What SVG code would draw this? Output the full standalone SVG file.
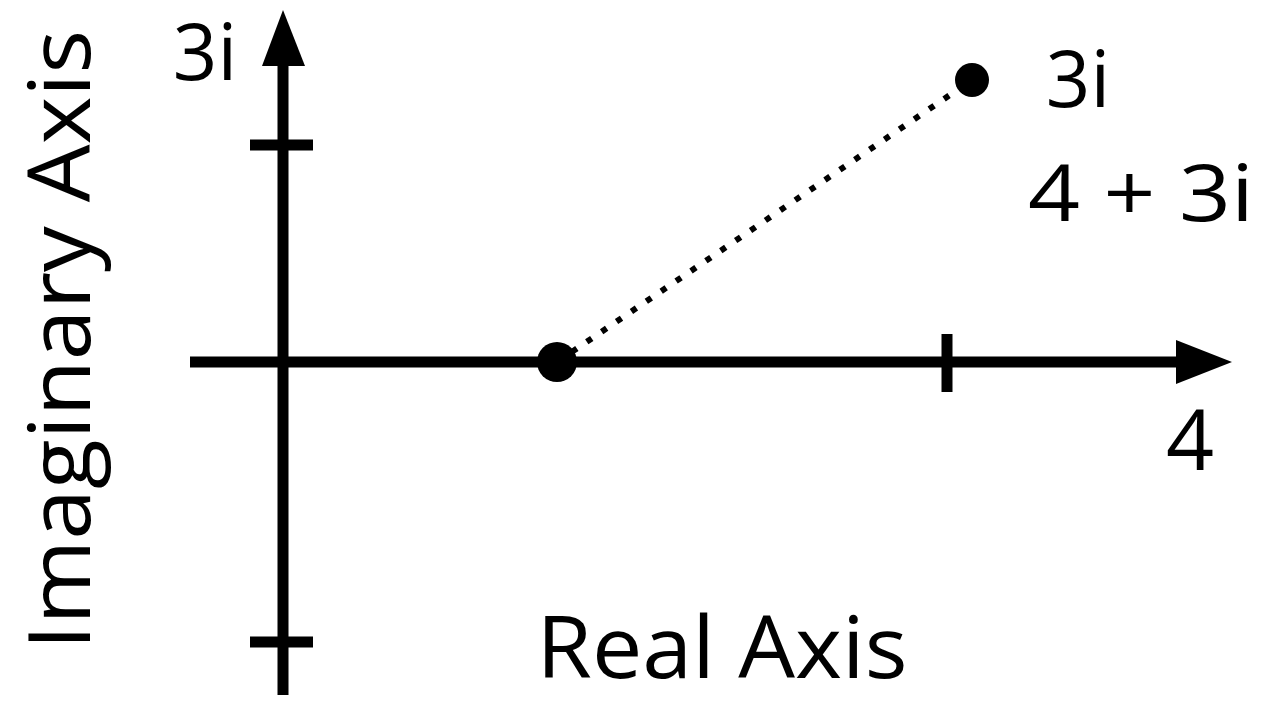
<svg xmlns="http://www.w3.org/2000/svg" width="1280" height="720" viewBox="0 0 1280 720">
<style>
.ax{stroke:#000;stroke-width:11;fill:none}
.t{font-family:"Open Sans","DejaVu Sans",sans-serif;fill:#000}
</style>
<rect width="1280" height="720" fill="#fff"/>
<g id="axes">
<line class="ax" x1="283" y1="695" x2="283" y2="55"/>
<polygon points="283,10 262,66 305,66"/>
<line class="ax" x1="250" y1="145" x2="313" y2="145"/>
<line class="ax" x1="250" y1="642" x2="313" y2="642"/>
<line class="ax" x1="190" y1="362" x2="1185" y2="362"/>
<polygon points="1232,362 1176,340 1176,384"/>
<line class="ax" x1="947" y1="334" x2="947" y2="392"/>
</g>
<g id="connectors">
<line x1="557" y1="362" x2="972" y2="80" stroke="#000" stroke-width="6" stroke-dasharray="6,12"/>
</g>
<g id="points">
<circle cx="557" cy="362" r="20"/>
<circle cx="972" cy="80" r="17"/>
</g>
<g id="labels">
<text class="t" x="205" y="80" font-size="78" text-anchor="middle">3i</text>
<text class="t" x="1078" y="107" font-size="78" text-anchor="middle">3i</text>
<text class="t" x="1141" y="221" font-size="78" text-anchor="middle" textLength="226" lengthAdjust="spacingAndGlyphs">4 + 3i</text>
<text class="t" x="1190" y="470" font-size="84" text-anchor="middle">4</text>
<text class="t" x="722" y="678" font-size="86" text-anchor="middle" textLength="371" lengthAdjust="spacingAndGlyphs">Real Axis</text>
<text class="t" transform="translate(90,340) rotate(-90)" font-size="86" text-anchor="middle" textLength="620" lengthAdjust="spacingAndGlyphs">Imaginary  Axis</text>
</g>
</svg>
